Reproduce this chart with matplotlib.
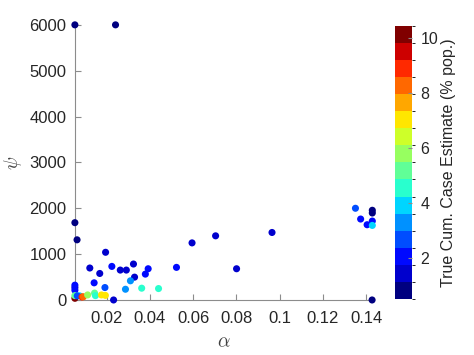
import matplotlib
matplotlib.use('Agg')
import matplotlib.pyplot as plt
import numpy as np
from matplotlib.colors import BoundaryNorm

plt.rcParams.update({'font.size': 11, 'font.family': ['Liberation Sans', 'DejaVu Sans'],
                     'mathtext.fontset': 'cm'})

# alpha, psi, true cumulative case estimate (% pop.)
alpha = [0.0053, 0.0241, 0.0053, 0.0063, 0.1428, 0.1429, 0.1429,
         0.0195, 0.0122, 0.0168, 0.0263, 0.0291, 0.0324, 0.0329, 0.0232,
         0.0595, 0.0965, 0.0801, 0.0704, 0.0053,
         0.0224, 0.0392, 0.0379, 0.0142, 0.0523, 0.1375, 0.1405, 0.1429,
         0.0053, 0.0053,
         0.1351, 0.0192, 0.0310, 0.0287, 0.1429, 0.0362, 0.0440,
         0.0053, 0.0053, 0.0074, 0.0064, 0.0086, 0.0092, 0.0112, 0.0144,
         0.0148, 0.0176, 0.0194]
psi = [6000, 6000, 1686, 1312, 0, 1956, 1897,
       1040, 697, 578, 652, 652, 784, 498, 0,
       1245, 1472, 681, 1399, 271,
       732, 681, 564, 374, 711, 1765, 1641, 1721,
       323, 213,
       2000, 271, 418, 234, 1626, 257, 249,
       37, 95, 90, 90, 65, 70, 110, 150,
       95, 110, 100]
cases = [0.8, 0.8, 0.8, 0.8, 0.8, 0.8, 0.8,
         1.3, 1.3, 1.3, 1.3, 1.3, 1.3, 1.3, 1.4,
         1.3, 1.3, 1.3, 1.3, 1.4,
         2.0, 2.0, 2.0, 2.0, 1.8, 2.0, 2.0, 2.0,
         1.9, 1.9,
         2.6, 2.6, 3.2, 3.5, 3.9, 4.6, 4.6,
         10.0, 5.2, 3.8, 2.8, 8.6, 8.0, 6.0, 5.2,
         4.8, 7.0, 7.3]

fig = plt.figure(figsize=(4.74, 3.55), dpi=100)
ax = fig.add_axes([0.158, 0.155, 0.627, 0.775])
cax = fig.add_axes([0.833, 0.158, 0.037, 0.769])

vmin, vmax = 0.5, 10.45
bounds = np.linspace(vmin, vmax, 17)
cmap = plt.get_cmap('jet', 16)
norm = BoundaryNorm(bounds, 16)

sc = ax.scatter(alpha, psi, c=cases, cmap=cmap, norm=norm, s=26,
                edgecolors='none', clip_on=False, zorder=3)

ax.set_xlim(0.0053, 0.1428)
ax.set_ylim(0, 6000)
ax.set_xticks(np.arange(0.02, 0.141, 0.02))
ax.set_xticklabels(['0.02', '0.04', '0.06', '0.08', '0.1', '0.12', '0.14'])
ax.set_yticks(np.arange(0, 6001, 1000))
for s in ['top', 'right']:
    ax.spines[s].set_visible(False)
for s in ['left', 'bottom']:
    ax.spines[s].set_color('#8c8c8c')
ax.tick_params(direction='in', length=4, color='#8c8c8c', labelcolor='#262626',
               labelsize=12)
ax.tick_params(axis='x', pad=8)
ax.tick_params(axis='y', pad=6)
ax.set_xlabel(r'$\alpha$', fontsize=14, color='#404040', labelpad=6)
ax.set_ylabel(r'$\psi$', fontsize=14, color='#404040', labelpad=4)

cb = fig.colorbar(sc, cax=cax, ticks=[2, 4, 6, 8, 10])
cb.outline.set_visible(False)
cb.ax.tick_params(direction='in', length=3, color='#8c8c8c', labelcolor='#262626',
                  labelsize=11.5, pad=6)
cb.set_label('True Cum. Case Estimate (% pop.)', fontsize=11.5, color='#262626',
             labelpad=2)

fig.savefig('out.png', dpi=100)
